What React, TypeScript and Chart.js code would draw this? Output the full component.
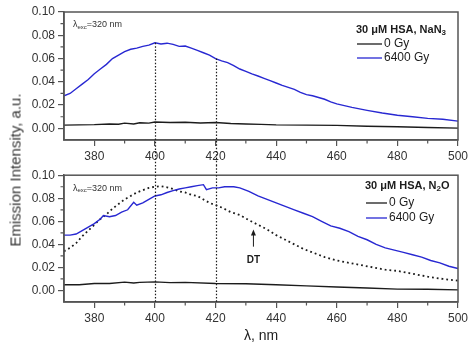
import React, { useEffect, useRef } from "react";
import { Chart, registerables } from "chart.js";

Chart.register(...registerables);

// ---------- DATA ----------
// Top panel: 30 µM HSA, NaN3
const topIrrWl = [370, 372, 374, 376, 378, 380, 382, 384, 386, 388, 390, 392, 394, 396, 398, 400, 402, 404, 406, 408, 410, 412, 414, 416, 418, 420, 422, 424, 426, 428, 430, 432, 434, 436, 438, 440, 442, 444, 446, 448, 450, 452, 454, 456, 458, 460, 465, 470, 475, 480, 485, 490, 495, 500];
const topIrr = [0.028, 0.030, 0.034, 0.038, 0.042, 0.047, 0.051, 0.055, 0.060, 0.063, 0.066, 0.068, 0.069, 0.0705, 0.0715, 0.0735, 0.0725, 0.0732, 0.0722, 0.0705, 0.0708, 0.069, 0.067, 0.065, 0.063, 0.060, 0.058, 0.0565, 0.054, 0.051, 0.049, 0.0468, 0.045, 0.043, 0.041, 0.039, 0.037, 0.0352, 0.0335, 0.031, 0.029, 0.028, 0.0265, 0.025, 0.0228, 0.021, 0.018, 0.0155, 0.0132, 0.0113, 0.010, 0.0086, 0.0078, 0.0062];
const topCtrlWl = [370, 375, 380, 385, 388, 390, 393, 395, 398, 400, 405, 410, 415, 420, 425, 430, 435, 440, 450, 460, 470, 480, 490, 500];
const topCtrl = [0.0028, 0.003, 0.0032, 0.0038, 0.0035, 0.0045, 0.0038, 0.0048, 0.0045, 0.0055, 0.005, 0.0052, 0.0046, 0.005, 0.0042, 0.0038, 0.0034, 0.003, 0.0028, 0.0026, 0.0018, 0.0014, 0.0008, 0.0002];

// Bottom panel: 30 µM HSA, N2O
const botIrrWl = [370, 372, 374, 376, 378, 380, 382, 383, 385, 387, 389, 391, 393, 394, 396, 398, 400, 402, 404, 406, 408, 410, 412, 414, 416, 417, 419, 421, 423, 426, 428, 431, 434, 437, 440, 443, 446, 449, 452, 455, 458, 461, 464, 467, 470, 473, 476, 479, 482, 485, 488, 491, 494, 497, 500];
const botIrr = [0.048, 0.048, 0.049, 0.052, 0.055, 0.058, 0.062, 0.065, 0.064, 0.065, 0.068, 0.070, 0.0765, 0.074, 0.076, 0.079, 0.082, 0.083, 0.085, 0.0866, 0.088, 0.089, 0.090, 0.091, 0.0918, 0.0875, 0.089, 0.089, 0.090, 0.090, 0.089, 0.086, 0.082, 0.079, 0.076, 0.073, 0.070, 0.067, 0.064, 0.060, 0.056, 0.054, 0.051, 0.047, 0.044, 0.040, 0.037, 0.035, 0.033, 0.031, 0.029, 0.026, 0.024, 0.021, 0.019];
const botCtrlWl = [370, 375, 380, 385, 390, 393, 395, 400, 405, 410, 420, 430, 440, 450, 460, 470, 480, 490, 500];
const botCtrl = [0.005, 0.005, 0.006, 0.006, 0.0072, 0.0065, 0.007, 0.0075, 0.0068, 0.007, 0.006, 0.0058, 0.005, 0.004, 0.003, 0.0022, 0.0012, 0.001, 0.0005];
const dtWl = [370, 372, 374, 376, 378, 380, 382, 384, 386, 388, 390, 392, 394, 396, 398, 400, 402, 404, 406, 408, 410, 412, 414, 416, 418, 420, 422, 425, 428, 431, 434, 437, 440, 443, 446, 449, 452, 456, 460, 464, 468, 472, 476, 480, 485, 490, 495, 500];
const dtVals = [0.034, 0.037, 0.041, 0.047, 0.052, 0.057, 0.062, 0.066, 0.071, 0.075, 0.079, 0.082, 0.085, 0.087, 0.089, 0.090, 0.0905, 0.0895, 0.088, 0.086, 0.085, 0.083, 0.082, 0.079, 0.076, 0.074, 0.072, 0.068, 0.0655, 0.061, 0.057, 0.053, 0.048, 0.044, 0.040, 0.036, 0.033, 0.029, 0.026, 0.024, 0.022, 0.020, 0.018, 0.017, 0.0145, 0.012, 0.010, 0.0085];

const xTicks = [380, 400, 420, 440, 460, 480, 500];
const xMinorTicks = [390, 410, 430, 450, 470, 490];
const yTicks = [0, 0.02, 0.04, 0.06, 0.08, 0.1];
const yMinorTicks = [0.01, 0.03, 0.05, 0.07, 0.09];
const markerWl = [400, 420];
const seriesLabels = ["0 Gy", "6400 Gy"];
const dtArrow = { x: 432.5, from: 0.038, to: 0.053, label: 0.026 };

// ---------- STYLE ----------
const FONT = "'Liberation Sans', Arial, sans-serif";
const BLUE = "#2828d2";
const DARK = "#1c1c1c";
const AXIS = "#555555";
const W = 474;
const TOP_H = 165;
const BOT_H = 186;

const pts = (xs: number[], ys: number[]) => xs.map((x, i) => ({ x, y: ys[i] }));

function interp(xs: number[], ys: number[], x: number) {
  for (let i = 0; i < xs.length - 1; i++) {
    if (x >= xs[i] && x <= xs[i + 1]) {
      const t = (x - xs[i]) / (xs[i + 1] - xs[i]);
      return ys[i] + t * (ys[i + 1] - ys[i]);
    }
  }
  return ys[ys.length - 1];
}

function drawLegend(ctx: CanvasRenderingContext2D, x: number, y: number, title: string, sub: string, tail: string, lineX0: number, lineX1: number, textX: number, row1: number, row2: number) {
  ctx.save();
  ctx.fillStyle = DARK;
  ctx.textBaseline = "middle";
  ctx.textAlign = "left";
  ctx.font = `bold 11px ${FONT}`;
  ctx.fillText(title, x, y);
  const w = ctx.measureText(title).width;
  ctx.font = `bold 8px ${FONT}`;
  ctx.fillText(sub, x + w, y + 3);
  const sw = ctx.measureText(sub).width;
  ctx.font = `bold 11px ${FONT}`;
  ctx.fillText(tail, x + w + sw, y);
  const colors = [DARK, BLUE];
  [row1, row2].forEach((ry, i) => {
    ctx.strokeStyle = colors[i];
    ctx.lineWidth = 1.3;
    ctx.beginPath();
    ctx.moveTo(lineX0, ry);
    ctx.lineTo(lineX1, ry);
    ctx.stroke();
    ctx.font = `12px ${FONT}`;
    ctx.fillStyle = DARK;
    ctx.fillText(seriesLabels[i], textX, ry);
  });
  ctx.restore();
}

function drawExc(ctx: CanvasRenderingContext2D, x: number, y: number) {
  ctx.save();
  ctx.fillStyle = "#333";
  ctx.textBaseline = "middle";
  ctx.textAlign = "left";
  ctx.font = `9px ${FONT}`;
  ctx.fillText("λ", x, y);
  let w = ctx.measureText("λ").width;
  ctx.font = `6px ${FONT}`;
  ctx.fillText("exc", x + w, y + 2.5);
  w += ctx.measureText("exc").width;
  ctx.font = `9px ${FONT}`;
  ctx.fillText("=320 nm", x + w, y);
  ctx.restore();
}

function decorPlugin(kind: "top" | "bottom") {
  return {
    id: "decor" + kind,
    afterDraw(chart: any) {
      const ctx: CanvasRenderingContext2D = chart.ctx;
      const { left, right, top, bottom } = chart.chartArea;
      const xs = chart.scales.x;
      const ys = chart.scales.y;
      ctx.save();
      // frame
      ctx.strokeStyle = AXIS;
      ctx.lineWidth = 1.5;
      ctx.strokeRect(left, top, right - left, bottom - top);
      // minor ticks
      ctx.lineWidth = 1.2;
      ctx.beginPath();
      xMinorTicks.forEach((v) => {
        const px = xs.getPixelForValue(v);
        ctx.moveTo(px, bottom);
        ctx.lineTo(px, bottom + 3.5);
      });
      yMinorTicks.forEach((v) => {
        const py = ys.getPixelForValue(v);
        ctx.moveTo(left, py);
        ctx.lineTo(left - 3.5, py);
      });
      ctx.stroke();
      // dotted markers
      ctx.strokeStyle = DARK;
      ctx.lineWidth = 1.2;
      ctx.setLineDash([1.5, 1.8]);
      markerWl.forEach((v) => {
        const px = Math.round(xs.getPixelForValue(v)) + 0.5;
        ctx.beginPath();
        if (kind === "top") {
          ctx.moveTo(px, ys.getPixelForValue(interp(topIrrWl, topIrr, v)));
          ctx.lineTo(px, chart.height);
        } else {
          ctx.moveTo(px, 0);
          ctx.lineTo(px, bottom);
        }
        ctx.stroke();
      });
      ctx.setLineDash([]);
      drawExc(ctx, left + 9, top + 13);
      if (kind === "top") {
        drawLegend(ctx, 356, 30, "30 μM HSA, NaN", "3", "", 357, 382, 384, 44, 58);
      } else {
        drawLegend(ctx, 365, 21, "30 μM HSA, N", "2", "O", 366, 387, 389, 38, 53);
        // DT arrow
        const ax = xs.getPixelForValue(dtArrow.x);
        const y0 = ys.getPixelForValue(dtArrow.from);
        const y1 = ys.getPixelForValue(dtArrow.to);
        ctx.strokeStyle = DARK;
        ctx.fillStyle = DARK;
        ctx.lineWidth = 1;
        ctx.beginPath();
        ctx.moveTo(ax, y0);
        ctx.lineTo(ax, y1 + 3);
        ctx.stroke();
        ctx.beginPath();
        ctx.moveTo(ax, y1);
        ctx.lineTo(ax - 2.5, y1 + 6);
        ctx.lineTo(ax + 2.5, y1 + 6);
        ctx.closePath();
        ctx.fill();
        ctx.font = `bold 10px ${FONT}`;
        ctx.textAlign = "center";
        ctx.textBaseline = "middle";
        ctx.fillText("DT", ax, ys.getPixelForValue(dtArrow.label));
      }
      ctx.restore();
    },
  };
}

function makeOptions(kind: "top" | "bottom"): any {
  return {
    responsive: false,
    animation: false,
    maintainAspectRatio: false,
    layout: {
      padding: kind === "top" ? { top: 12, right: 16, bottom: 0, left: 0 } : { top: 8, right: 16, bottom: 2, left: 0 },
    },
    plugins: { legend: { display: false }, tooltip: { enabled: false } },
    elements: { point: { radius: 0 }, line: { tension: 0 } },
    scales: {
      x: {
        type: "linear",
        min: 370,
        max: 500,
        afterBuildTicks: (s: any) => {
          s.ticks = xTicks.map((v) => ({ value: v }));
        },
        afterFit: (s: any) => {
          s.height = kind === "top" ? 25 : 47;
        },
        grid: { drawOnChartArea: false, drawTicks: true, tickLength: 6, color: AXIS, lineWidth: 1.2 },
        border: { display: true, color: AXIS, width: 1.5 },
        ticks: {
          color: "#333",
          font: { family: FONT, size: 12 },
          padding: 3,
          maxRotation: 0,
          callback: (v: any) => String(v),
        },
        title: {
          display: kind === "bottom",
          text: "λ, nm",
          color: "#222",
          font: { family: FONT, size: 14 },
        },
      },
      y: {
        type: "linear",
        min: -0.01,
        max: 0.1,
        afterBuildTicks: (s: any) => {
          s.ticks = yTicks.map((v) => ({ value: v }));
        },
        afterFit: (s: any) => {
          s.width = 64;
        },
        grid: { drawOnChartArea: false, drawTicks: true, tickLength: 6, color: AXIS, lineWidth: 1.2 },
        border: { display: true, color: AXIS, width: 1.5 },
        ticks: {
          color: "#333",
          font: { family: FONT, size: 12 },
          padding: 3,
          callback: (v: any) => Number(v).toFixed(2),
        },
      },
    },
  };
}

export default function App() {
  const topRef = useRef<HTMLCanvasElement | null>(null);
  const botRef = useRef<HTMLCanvasElement | null>(null);

  useEffect(() => {
    const top = new Chart(topRef.current as HTMLCanvasElement, {
      type: "line",
      data: {
        datasets: [
          { label: seriesLabels[0], data: pts(topCtrlWl, topCtrl), borderColor: DARK, borderWidth: 1.4, fill: false },
          { label: seriesLabels[1], data: pts(topIrrWl, topIrr), borderColor: BLUE, borderWidth: 1.4, fill: false },
        ],
      },
      options: makeOptions("top"),
      plugins: [decorPlugin("top")],
    } as any);
    const bot = new Chart(botRef.current as HTMLCanvasElement, {
      type: "line",
      data: {
        datasets: [
          { label: seriesLabels[0], data: pts(botCtrlWl, botCtrl), borderColor: DARK, borderWidth: 1.4, fill: false },
          { label: seriesLabels[1], data: pts(botIrrWl, botIrr), borderColor: BLUE, borderWidth: 1.4, fill: false },
          { label: "DT", data: pts(dtWl, dtVals), borderColor: DARK, borderWidth: 1.8, borderDash: [1.8, 3], fill: false },
        ],
      },
      options: makeOptions("bottom"),
      plugins: [decorPlugin("bottom")],
    } as any);
    return () => {
      top.destroy();
      bot.destroy();
    };
  }, []);

  return (
    <div style={{ position: "absolute", left: 0, top: 0, width: W, height: TOP_H + BOT_H, background: "#fff" }}>
      <canvas ref={topRef} width={W} height={TOP_H} style={{ position: "absolute", left: 0, top: 0 }} />
      <canvas ref={botRef} width={W} height={BOT_H} style={{ position: "absolute", left: 0, top: TOP_H }} />
      <div
        style={{
          position: "absolute",
          left: 15,
          top: 170,
          transform: "translate(-50%, -50%) rotate(-90deg)",
          whiteSpace: "nowrap",
          fontFamily: FONT,
          fontSize: 15,
          fontWeight: 400,
          color: "#333",
        }}
      >
        Emission Intensity, a.u.
      </div>
    </div>
  );
}
